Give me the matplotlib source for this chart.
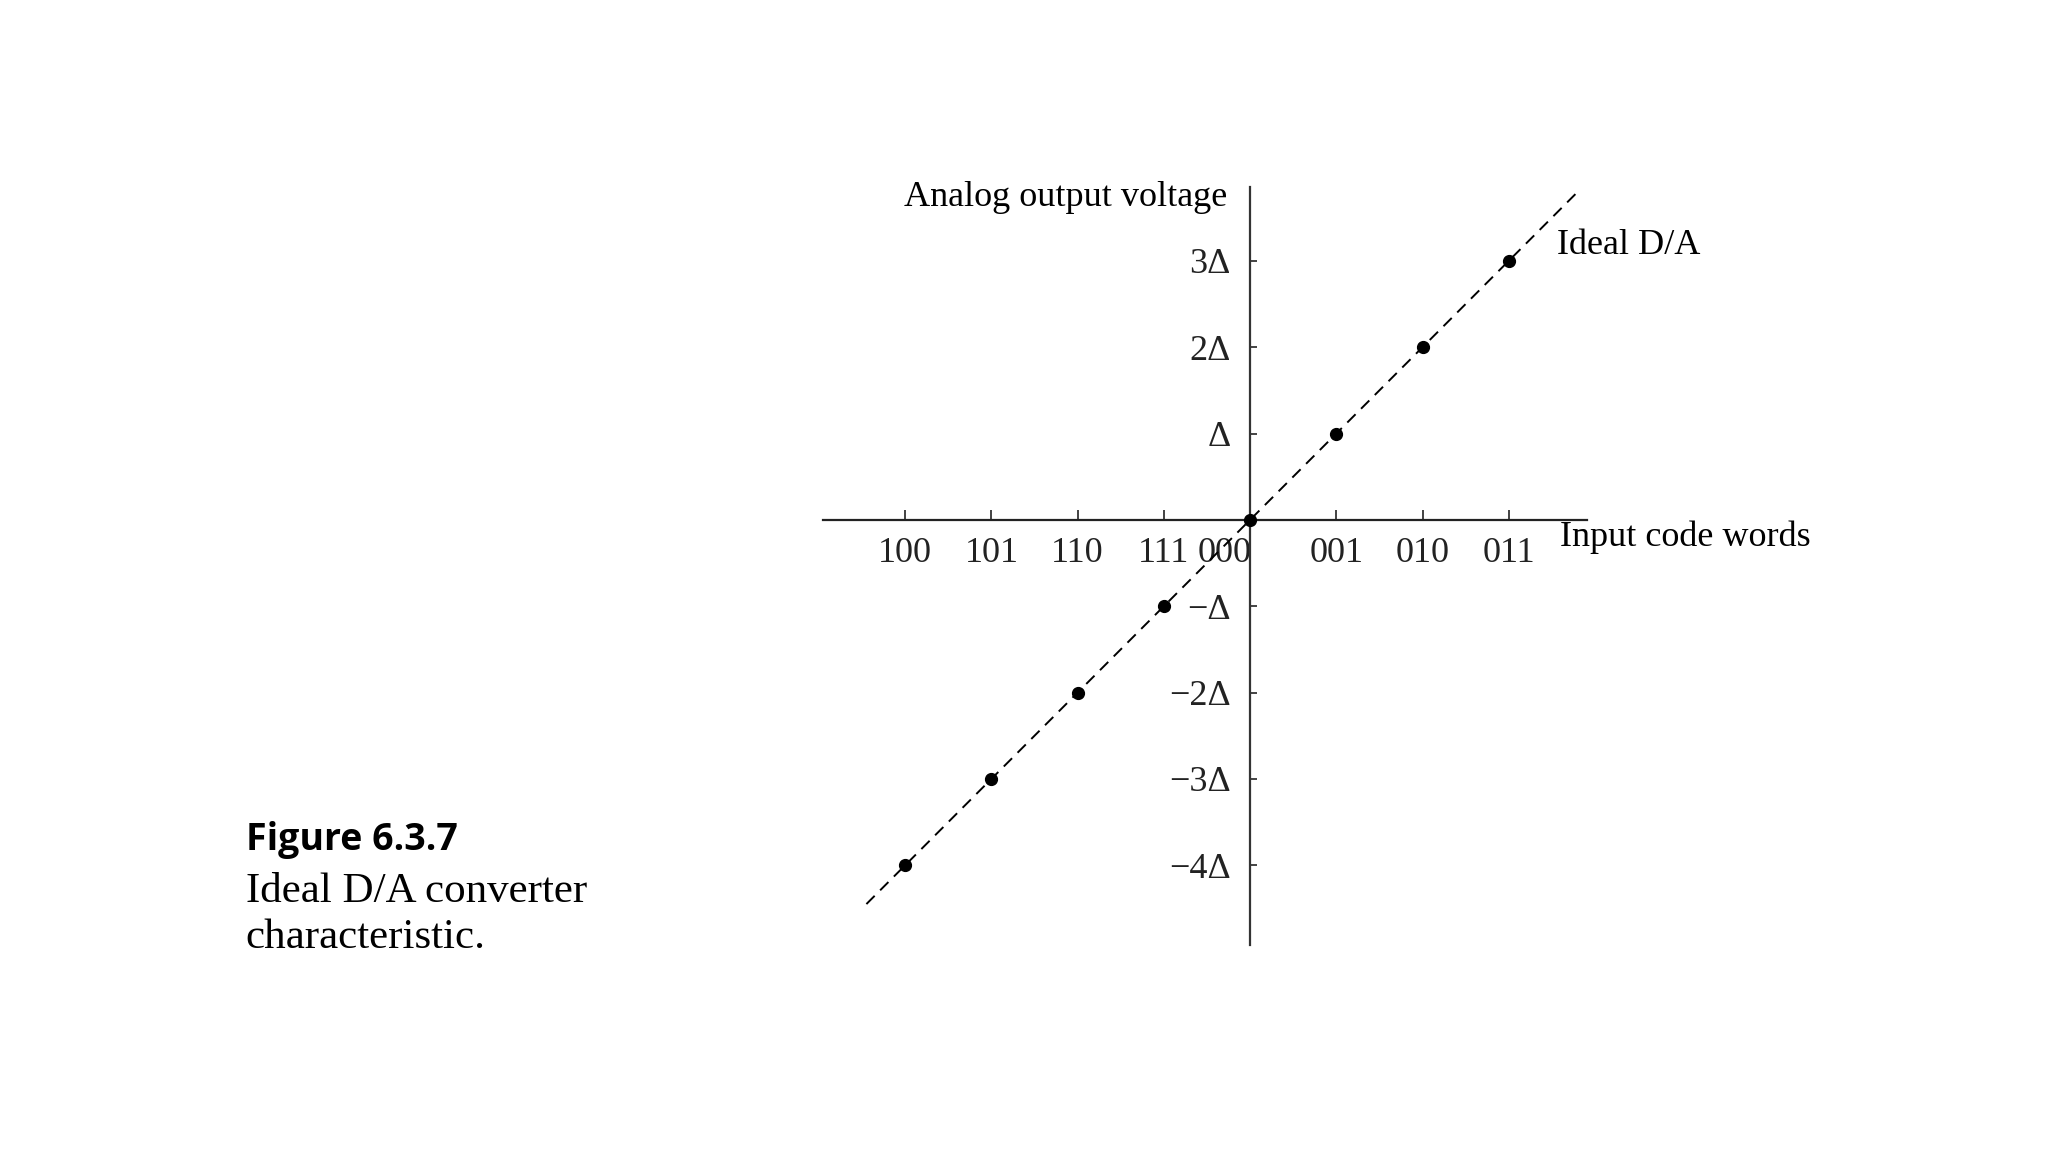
import numpy as np
import matplotlib
matplotlib.use("Agg")
import matplotlib.pyplot as plt
from matplotlib.transforms import ScaledTranslation

# code words (two's complement order) and ideal output levels in units of delta
code_words = ["100", "101", "110", "111", "000", "001", "010", "011"]
code_values = [-4, -3, -2, -1, 0, 1, 2, 3]
output_levels = [-4, -3, -2, -1, 0, 1, 2, 3]
y_tick_values = [-4, -3, -2, -1, 1, 2, 3]
y_tick_labels = ["\u22124\u0394", "\u22123\u0394", "\u22122\u0394", "\u2212\u0394", "\u0394", "2\u0394", "3\u0394"]
ideal_line_x = [-4.45, 3.78]


def main():
    plot_converter(title="Figure 6.3.7", caption="Ideal D/A converter\ncharacteristic.")


def plot_converter(title, caption):
    serif = "Liberation Serif"
    fs = 26
    fig = plt.figure(figsize=(20.48, 11.52), dpi=100)
    ax = fig.add_axes([0.402, 0.180, 0.373, 0.658])
    ax.set_xlim(-4.95, 3.91)
    ax.set_ylim(-4.92, 3.86)

    for side in ["top", "right"]:
        ax.spines[side].set_visible(False)
    ax.spines["left"].set_position(("data", 0))
    ax.spines["bottom"].set_position(("data", 0))
    ax.spines["left"].set_color("#333333")
    ax.spines["bottom"].set_color("#222222")
    ax.spines["left"].set_linewidth(1.6)
    ax.spines["bottom"].set_linewidth(1.6)

    ax.set_xticks(code_values)
    ax.set_xticklabels(code_words, fontfamily=serif, fontsize=fs)
    ax.set_yticks(y_tick_values)
    ax.set_yticklabels(y_tick_labels, fontfamily=serif, fontsize=fs)
    ax.tick_params(axis="x", direction="in", length=7, width=1.2, pad=12, colors="#222222")
    ax.tick_params(axis="y", direction="in", length=5, width=1.2, pad=14, colors="#222222")

    # the "000" label sits just left of the vertical axis
    lbl = ax.get_xticklabels()[code_words.index("000")]
    lbl.set_transform(lbl.get_transform() + ScaledTranslation(-18 / 72, 0, fig.dpi_scale_trans))

    # dashed ideal transfer line and the code points on it
    xs = np.array(ideal_line_x)
    ax.plot(xs, xs, color="black", lw=1.4, ls=(0, (6, 4)), clip_on=False)
    ax.plot(code_values, output_levels, "o", color="black", ms=8.5, clip_on=False, zorder=3)

    ax.text(-0.26, 3.73, "Analog output voltage", ha="right", va="center",
            fontfamily=serif, fontsize=fs)
    ax.text(3.56, 3.18, "Ideal D/A", ha="left", va="center", fontfamily=serif, fontsize=fs)
    ax.text(3.6, -0.2, "Input code words", ha="left", va="center", fontfamily=serif, fontsize=fs)

    fig.text(0.12, 0.271, title, ha="left", va="center", fontfamily="Open Sans",
             fontweight="bold", fontsize=27)
    fig.text(0.12, 0.206, caption, ha="left", va="center", fontfamily=serif,
             fontsize=31, linespacing=1.25)

    plt.savefig("out.png", dpi=100)


if __name__ == "__main__":
    main()
